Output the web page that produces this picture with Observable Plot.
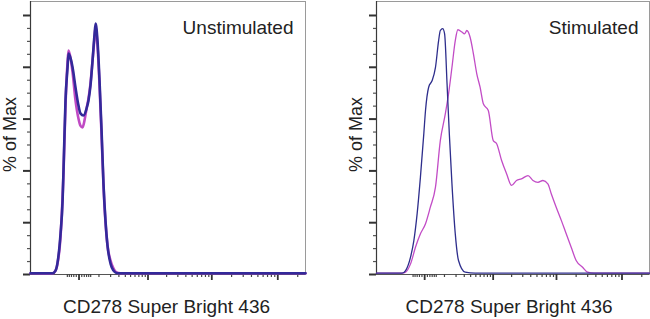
<!DOCTYPE html>
<html><head><meta charset="utf-8">
<script src="https://cdn.jsdelivr.net/npm/d3@7"></script>
<script src="https://cdn.jsdelivr.net/npm/@observablehq/plot@0.6"></script>
<style>body{margin:0;background:#fff}#wrap{display:flex;width:650px;height:319px;overflow:hidden}</style>
</head><body><div id="wrap"></div>
<script>
// ---- data (fluorescence intensity, % of Max) ----
const xDomain = [-440, 262144];
const yDomain = [0, 105.4];

const panelTitles = ["Unstimulated", "Stimulated"];
const xLabel = "CD278 Super Bright 436";
const yLabel = "% of Max";

// Unstimulated panel
const unstimCtrlX = [-440, -151, -126, -111, -90, -77, -71, -60, -49, -44, -34, -25, -13, -2, 5, 17, 30, 39, 49, 60, 71, 78, 90, 104, 119, 134, 151, 169, 199, 232, 268, 323, 262144];
const unstimCtrlY = [0.5, 0.5, 1.5, 4.6, 15.8, 28.6, 41.3, 67.2, 79.9, 85.3, 83.4, 79.9, 72.2, 65.3, 62.2, 61.4, 64.1, 67.2, 73, 82.6, 92.3, 96.9, 90.3, 74.9, 55.6, 35.1, 20.8, 11.2, 4.2, 1.5, 0.6, 0.5, 0.5];
const unstimStainX = [-440, -151, -126, -111, -90, -71, -60, -49, -44, -34, -25, -13, -2, 5, 13, 21, 30, 39, 49, 60, 71, 78, 90, 104, 119, 134, 151, 169, 199, 232, 268, 323, 262144];
const unstimStainY = [0.5, 0.4, 1.5, 4.2, 14.7, 40.2, 65.3, 81.9, 86.5, 83.4, 78, 67.2, 60.2, 57.5, 56.8, 59.5, 64.1, 68, 73.7, 82.6, 91.1, 95.4, 88.4, 73, 53.7, 34.4, 20.1, 11.2, 5.4, 2.3, 0.8, 0.5, 0.5];

// Stimulated panel
const stimCtrlX = [-440, -120, -95, -64, -46, -30, -16, -3, 3, 15, 30, 46, 63, 73, 88, 101, 119, 137, 160, 192, 227, 313, 485, 262144];
const stimCtrlY = [0.5, 0.5, 1.5, 6.7, 13.1, 23.6, 37.6, 54.4, 63.3, 72.3, 74.9, 80, 90.3, 94.2, 94.9, 92.9, 73.6, 54.4, 35, 15.7, 5.4, 0.9, 0.5, 0.5];
const stimStainX = [-440, -120, -95, -64, -38, -16, 3, 22, 46, 73, 106, 131, 160, 192, 220, 268, 303, 338, 391, 451, 520, 596, 680, 828, 1004, 1143, 1379, 1660, 1993, 2390, 2860, 3630, 4330, 5180, 6180, 7370, 8310, 9900, 11900, 14100, 16800, 20000, 25100, 29900, 37800, 262144];
const stimStainY = [0.5, 0.5, 0.9, 4.1, 10.5, 15.7, 19.6, 26, 33.7, 51.7, 62, 69.8, 80, 90.3, 94.5, 93.6, 92.9, 94.2, 91.6, 85.2, 77.5, 72.3, 65.9, 63.3, 51.7, 50.5, 44, 38.9, 34.4, 36.3, 36.9, 38.2, 36.3, 35.6, 36.3, 35, 31.2, 26, 20.8, 15.7, 10.5, 5.4, 2.8, 0.9, 0.5, 0.5];

// ticks
const xMajorTicks = [0, 1000, 10000, 100000];
const xMinorTicks = [-50, -40, -30, -20, -10, 10, 20, 30, 40, 50, 100, 200, 300, 400, 500, 600, 700, 800, 900, 2000, 3000, 4000, 5000, 6000, 7000, 8000, 9000, 20000, 30000, 40000, 50000, 60000, 70000, 80000, 90000, 200000];
const yMajorTicks = [0, 20, 40, 60, 80, 100];
const yMinorTicks = [5, 10, 15, 25, 30, 35, 45, 50, 55, 65, 70, 75, 85, 90, 95];

const zip = (xs, ys) => xs.map((x, i) => ({x, y: ys[i]}));

function panel({title, ctrl, stain, marginLeft, marginRight, lw, ctrlColor, stainColor, titleDx, xLabelDx}) {
  const blank = () => "";
  return Plot.plot({
    width: 325, height: 319,
    marginLeft, marginRight, marginTop: 1, marginBottom: 45,
    style: {background: "white", fontFamily: "'Liberation Sans', Arial, sans-serif", overflow: "visible"},
    x: {type: "symlog", constant: 100, domain: xDomain},
    y: {domain: yDomain},
    marks: [
      Plot.frame({stroke: "#9a9a9a"}),
      Plot.ruleX([xDomain[0]], {stroke: "#3a3a3a", strokeWidth: 1.2}),
      Plot.ruleY([yDomain[0]], {stroke: "#555"}),
      Plot.axisY({ticks: yMajorTicks, tickSize: 7, tickFormat: blank, label: null, stroke: "#333", strokeWidth: 2}),
      Plot.axisY({ticks: yMinorTicks, tickSize: 3, tickFormat: blank, label: null, stroke: "#555", strokeWidth: 1.2}),
      Plot.axisX({ticks: xMajorTicks, tickSize: 6, tickFormat: blank, label: null, stroke: "#333", strokeWidth: 1.8}),
      Plot.axisX({ticks: xMinorTicks, tickSize: 3, tickFormat: blank, label: null, stroke: "#444", strokeWidth: 1.2}),
      Plot.line(stain, {x: "x", y: "y", stroke: stainColor, strokeWidth: lw, curve: "monotone-x"}),
      Plot.line(ctrl, {x: "x", y: "y", stroke: ctrlColor, strokeWidth: lw, curve: "monotone-x"}),
      Plot.text([title], {frameAnchor: "top-right", textAnchor: "end", lineAnchor: "middle", dx: titleDx, dy: 26, fontSize: 19, fill: "#222"}),
      Plot.text([yLabel], {frameAnchor: "left", textAnchor: "middle", lineAnchor: "middle", rotate: -90, dx: -20, dy: -3.5, fontSize: 18, fill: "#222"}),
      Plot.text([xLabel], {frameAnchor: "bottom", textAnchor: "middle", lineAnchor: "middle", dx: xLabelDx, dy: 32, fontSize: 19, fill: "#222"})
    ]
  });
}

const wrap = document.getElementById("wrap");
wrap.appendChild(panel({
  title: panelTitles[0], ctrl: zip(unstimCtrlX, unstimCtrlY), stain: zip(unstimStainX, unstimStainY),
  marginLeft: 30, marginRight: 20, lw: 2.6, ctrlColor: "#33299a", stainColor: "#c04ac4", titleDx: -12, xLabelDx: -1.5
}));
wrap.appendChild(panel({
  title: panelTitles[1], ctrl: zip(stimCtrlX, stimCtrlY), stain: zip(stimStainX, stimStainY),
  marginLeft: 51, marginRight: 1, lw: 1.3, ctrlColor: "#2e2e8c", stainColor: "#c24cc6", titleDx: -11, xLabelDx: -4
}));
</script></body></html>
